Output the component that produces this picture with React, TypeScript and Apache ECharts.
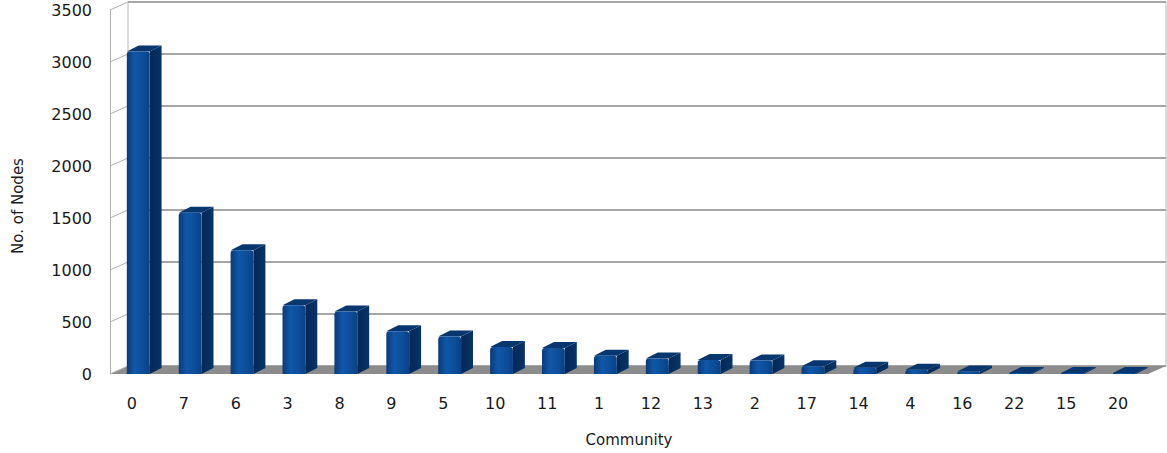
import React, { useEffect, useRef } from "react";
import * as echarts from "echarts";

const categories = ["0", "7", "6", "3", "8", "9", "5", "10", "11", "1", "12", "13", "2", "17", "14", "4", "16", "22", "15", "20"];
const nodeCounts = [3100, 1550, 1190, 660, 600, 410, 360, 260, 250, 175, 150, 135, 130, 75, 60, 40, 25, 8, 5, 4];
const yTicks = [0, 500, 1000, 1500, 2000, 2500, 3000, 3500];
const yMin = 0;
const yMax = 3500;
const yStep = 500;

const FONT = "DejaVu Sans";
const DEPTH_X = 18;
const DEPTH_Y = -8;

export default function App() {
  const ref = useRef<HTMLDivElement>(null);

  useEffect(() => {
    document.body.style.margin = "0";
    if (!ref.current) return;
    const chart = echarts.init(ref.current, undefined, { renderer: "svg" });

    const frontGrad = new echarts.graphic.LinearGradient(0, 0, 1, 0, [
      { offset: 0, color: "#0a3b78" },
      { offset: 0.35, color: "#0f57a8" },
      { offset: 0.75, color: "#0c4c96" },
      { offset: 1, color: "#0a4184" },
    ]);
    const sideGrad = new echarts.graphic.LinearGradient(0, 0, 1, 0, [
      { offset: 0, color: "#042856" },
      { offset: 1, color: "#073468" },
    ]);

    const barData = nodeCounts.map((v, i) => [i, v]);
    const tickData = yTicks.map((t) => [0, t]);

    const option: any = {
      animation: false,
      backgroundColor: "#ffffff",
      grid: [
        { left: 110, top: 10, width: 1038, height: 364, containLabel: false },
        {
          left: 110 + DEPTH_X,
          top: 10 + DEPTH_Y,
          width: 1038,
          height: 364,
          show: true,
          borderColor: "#b8b8b8",
          borderWidth: 1,
          backgroundColor: "transparent",
        },
      ],
      xAxis: [
        {
          type: "category",
          gridIndex: 0,
          data: categories,
          boundaryGap: true,
          axisLine: { show: false },
          axisTick: { show: false },
          axisLabel: {
            margin: 21,
            color: "#1a1a1a",
            fontFamily: FONT,
            fontSize: 16,
            padding: [0, 8, 0, 0],
          },
          name: "Community",
          nameLocation: "middle",
          nameGap: 58,
          nameTextStyle: { color: "#1a1a1a", fontFamily: FONT, fontSize: 15 },
        },
        { type: "category", gridIndex: 1, data: categories, show: false },
      ],
      yAxis: [
        {
          type: "value",
          gridIndex: 0,
          min: yMin,
          max: yMax,
          interval: yStep,
          axisLine: { show: true, lineStyle: { color: "#b0b0b0", width: 1 } },
          axisTick: { show: false },
          splitLine: { show: false },
          axisLabel: {
            margin: 18,
            color: "#1a1a1a",
            fontFamily: FONT,
            fontSize: 16,
            formatter: (v: number) => String(v),
          },
          name: "No. of Nodes",
          nameLocation: "middle",
          nameGap: 85,
          nameRotate: 90,
          nameTextStyle: { color: "#1a1a1a", fontFamily: FONT, fontSize: 15, padding: [0, 28, 0, 0] },
        },
        {
          type: "value",
          gridIndex: 1,
          min: yMin,
          max: yMax,
          interval: yStep,
          axisLine: { show: false },
          axisTick: { show: false },
          axisLabel: { show: false },
          splitLine: { show: true, lineStyle: { color: "#a6a6a6", width: 2 } },
        },
      ],
      series: [
        {
          type: "custom",
          name: "floor",
          xAxisIndex: 0,
          yAxisIndex: 0,
          z: 1,
          silent: true,
          data: [[0, 0]],
          renderItem: (params: any, api: any) => {
            const cs = params.coordSys;
            const yb = api.coord([0, yMin])[1];
            const x0 = cs.x;
            const x1 = cs.x + cs.width;
            return {
              type: "polygon",
              shape: {
                points: [
                  [x0, yb],
                  [x1, yb],
                  [x1 + DEPTH_X, yb + DEPTH_Y],
                  [x0 + DEPTH_X, yb + DEPTH_Y],
                ],
              },
              style: { fill: "#8c8c8c" },
            };
          },
        },
        {
          type: "custom",
          name: "ticks",
          xAxisIndex: 0,
          yAxisIndex: 0,
          z: 1,
          silent: true,
          data: tickData,
          renderItem: (params: any, api: any) => {
            const cs = params.coordSys;
            const y = api.coord([0, api.value(1)])[1];
            return {
              type: "line",
              shape: { x1: cs.x, y1: y, x2: cs.x + DEPTH_X, y2: y + DEPTH_Y },
              style: { stroke: "#b0b0b0", lineWidth: 1 },
            };
          },
        },
        {
          type: "custom",
          name: "No. of Nodes",
          xAxisIndex: 0,
          yAxisIndex: 0,
          z: 3,
          data: barData,
          renderItem: (params: any, api: any) => {
            const idx = api.value(0);
            const v = api.value(1);
            const base = api.coord([idx, yMin]);
            const top = api.coord([idx, v]);
            const band = api.size([1, 0])[0];
            const fw = band * 0.44;
            const sx = band * 0.23;
            const sy = -6;
            const x0 = base[0] - fw * 0.4;
            const x1 = x0 + fw;
            const yb = base[1];
            const yt = Math.min(top[1], yb - 1);
            return {
              type: "group",
              children: [
                {
                  type: "polygon",
                  shape: { points: [[x1, yb], [x1 + sx, yb + sy], [x1 + sx, yt + sy], [x1, yt]] },
                  style: { fill: sideGrad },
                },
                {
                  type: "polygon",
                  shape: { points: [[x0, yt], [x1, yt], [x1 + sx, yt + sy], [x0 + sx, yt + sy]] },
                  style: { fill: "#08376f" },
                },
                {
                  type: "rect",
                  shape: { x: x0, y: yt, width: fw, height: yb - yt, r: [3, 3, 0, 0] },
                  style: { fill: frontGrad },
                },
              ],
            };
          },
        },
      ],
    };

    chart.setOption(option);
    return () => chart.dispose();
  }, []);

  return <div ref={ref} style={{ width: 1167, height: 453 }} />;
}
